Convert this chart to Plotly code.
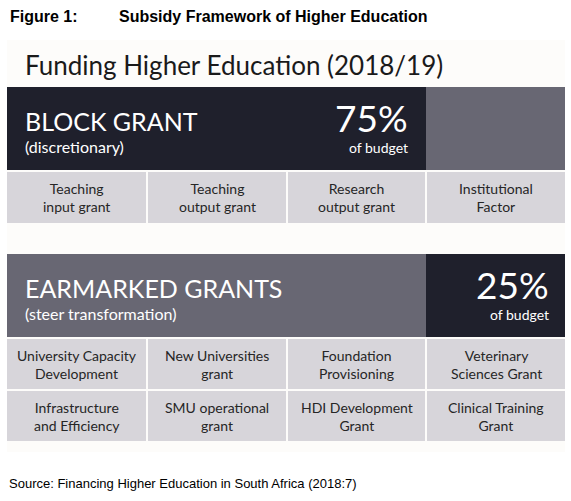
import plotly.graph_objects as go

# Figure text / data
fig_label = "Figure 1:"
fig_title = "Subsidy Framework of Higher Education"
panel_title = "Funding Higher Education (2018/19)"
source_note = "Source: Financing Higher Education in South Africa (2018:7)"

group_names = ["BLOCK GRANT", "EARMARKED GRANTS"]
group_notes = ["(discretionary)", "(steer transformation)"]
group_shares = [75, 25]

block_items = ["Teaching<br>input grant", "Teaching<br>output grant",
               "Research<br>output grant", "Institutional<br>Factor"]
earmarked_items = ["University Capacity<br>Development", "New Universities<br>grant",
                   "Foundation<br>Provisioning", "Veterinary<br>Sciences Grant",
                   "Infrastructure<br>and Efficiency", "SMU operational<br>grant",
                   "HDI Development<br>Grant", "Clinical Training<br>Grant"]

# colours
DARK = "#1f202c"
MID = "#686773"
CELL = "#d7d5da"
FONT = "Lato"

W, H = 571, 501
left, right = 7, 565
col_edges = [7, 147, 287, 426, 565]
gap = 2

fig = go.Figure()
shapes = []
ann = []

# faint panel background
shapes.append(dict(type="rect", x0=left, x1=right, y0=40, y1=452,
                   fillcolor="#fdfcfa", line_width=0, layer="below"))


def header_band(y0, y1, idx):
    # left part coloured by group, right part the other colour
    split = col_edges[3]
    c_left, c_right = (DARK, MID) if idx == 0 else (MID, DARK)
    shapes.append(dict(type="rect", x0=left, x1=split, y0=y0, y1=y1,
                       fillcolor=c_left, line_width=0))
    shapes.append(dict(type="rect", x0=split, x1=right, y0=y0, y1=y1,
                       fillcolor=c_right, line_width=0))
    ann.append(dict(x=left + 16, y=y0 + 34, text=group_names[idx], showarrow=False,
                    xanchor="left", yanchor="middle",
                    font=dict(family=FONT, size=25, color="white")))
    ann.append(dict(x=left + 16, y=y0 + 59, text=group_notes[idx], showarrow=False,
                    xanchor="left", yanchor="middle",
                    font=dict(family=FONT, size=16, color="white")))
    px = 410 if idx == 0 else 551
    ann.append(dict(x=px, y=y0 + 30, text=f"{group_shares[idx]}%", showarrow=False,
                    xanchor="right", yanchor="middle",
                    font=dict(family=FONT, size=37, color="white")))
    ann.append(dict(x=px, y=y0 + 60, text="of budget", showarrow=False,
                    xanchor="right", yanchor="middle",
                    font=dict(family=FONT, size=14, color="white")))


def cell_row(y0, y1, items):
    for i, label in enumerate(items):
        x0 = col_edges[i] + (0 if i == 0 else gap / 2)
        x1 = col_edges[i + 1] - (0 if i == 3 else gap / 2)
        shapes.append(dict(type="rect", x0=x0, x1=x1, y0=y0, y1=y1,
                           fillcolor=CELL, line_width=0))
        ann.append(dict(x=(x0 + x1) / 2, y=(y0 + y1) / 2, text=label, showarrow=False,
                        xanchor="center", yanchor="middle",
                        font=dict(family=FONT, size=14, color="#262626")))


header_band(87, 170, 0)
cell_row(172, 223, block_items)

header_band(254, 337, 1)
cell_row(339, 389, earmarked_items[:4])
cell_row(391, 441, earmarked_items[4:])

# headings
ann.append(dict(x=8, y=16, text="<b>" + fig_label + "</b>", showarrow=False,
                xanchor="left", yanchor="middle",
                font=dict(family="Liberation Sans, Arial", size=16, color="black")))
ann.append(dict(x=117, y=16, text="<b>" + fig_title + "</b>", showarrow=False,
                xanchor="left", yanchor="middle",
                font=dict(family="Liberation Sans, Arial", size=16, color="black")))
ann.append(dict(x=23, y=65, text=panel_title, showarrow=False,
                xanchor="left", yanchor="middle",
                font=dict(family=FONT, size=26, color="#1a1a1a")))
ann.append(dict(x=7, y=483, text=source_note, showarrow=False,
                xanchor="left", yanchor="middle",
                font=dict(family="Liberation Sans Narrow, Liberation Sans, Arial",
                          size=13, color="black")))

fig.update_layout(
    width=W, height=H,
    margin=dict(l=0, r=0, t=0, b=0),
    paper_bgcolor="white", plot_bgcolor="white",
    xaxis=dict(range=[0, W], visible=False, fixedrange=True),
    yaxis=dict(range=[H, 0], visible=False, fixedrange=True),
    shapes=shapes, annotations=ann,
    showlegend=False,
)

# drop the browser's default page margin so the figure sits at the corner
fig.write_html("out.html", config={"displayModeBar": False},
               post_script="document.body.style.margin='0';")
